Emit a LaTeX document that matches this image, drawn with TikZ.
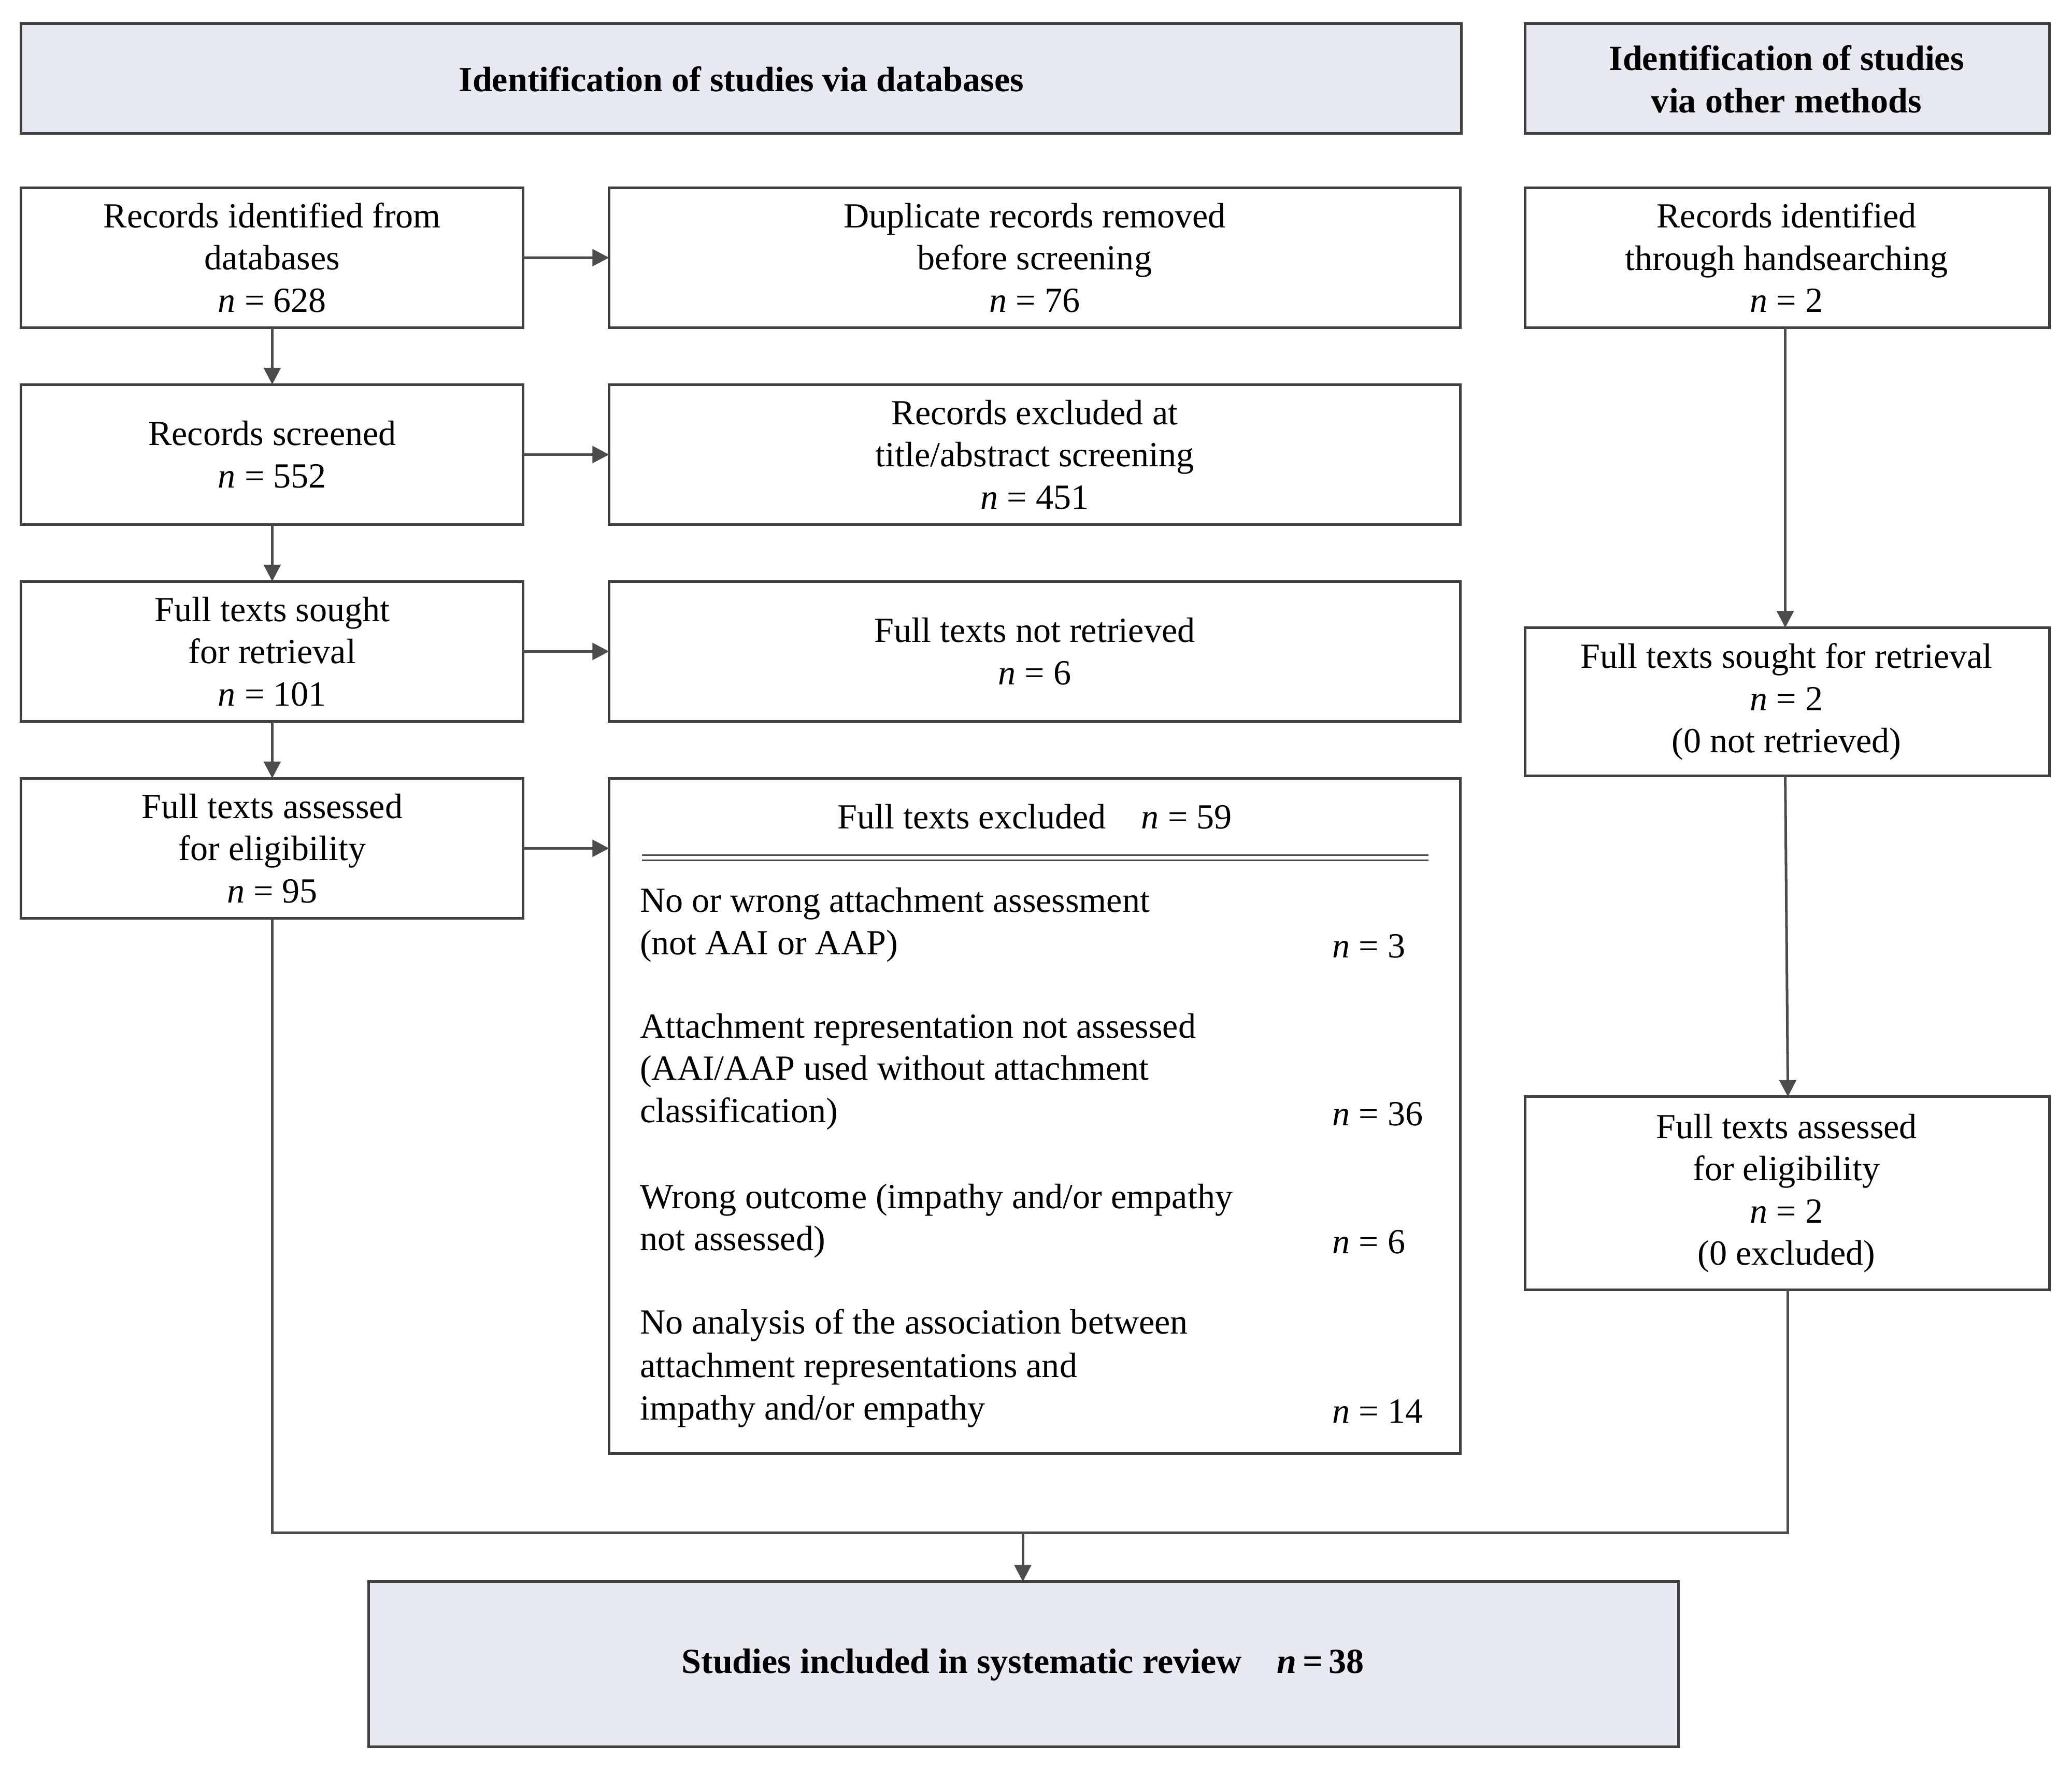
\documentclass[tikz,border=0pt]{standalone}
\usepackage{fontspec}
\setmainfont{Liberation Serif}
\usetikzlibrary{arrows.meta}
\begin{document}
\fontsize{19pt}{22.7pt}\selectfont
\begin{tikzpicture}[x=0.025cm,y=-0.025cm,
  bx/.style={draw=black!75,line width=1.4pt},
  hd/.style={bx,fill=blue!20!gray!15},
  t/.style={align=center,inner sep=0},
  l/.style={anchor=west,inner sep=0},
  ar/.style={draw=black!70,line width=1.4pt,-{Triangle[length=9pt,width=9pt]}},
  ln/.style={draw=black!70,line width=1.4pt}]
\useasboundingbox (0,0) rectangle (1568,1343);
\newcommand{\nn}{\textit{n}}
% headers
\draw[hd] (16,18) rectangle (1106,101); \node[t,font=\bfseries] (h1) at (561,60) {Identification of studies via databases};
\draw[hd] (1154,18) rectangle (1551,101); \node[t,font=\bfseries] (h2) at (1352,60) {Identification of studies\\via other methods};
% left
\draw[bx] (16,142) rectangle (396,248); \coordinate (a1) at (206,195);
\node[t] (ta1) at (206,195) {Records identified from\\databases\\\nn{} = 628};
\draw[bx] (16,291) rectangle (396,397);
\node[t] (ta2) at (206,344) {Records screened\\\nn{} = 552};
\draw[bx] (16,440) rectangle (396,546);
\node[t] (ta3) at (206,493) {Full texts sought\\for retrieval\\\nn{} = 101};
\draw[bx] (16,589) rectangle (396,695);
\node[t] (ta4) at (206,642) {Full texts assessed\\for eligibility\\\nn{} = 95};
% middle
\draw[bx] (461,142) rectangle (1105,248);
\node[t] (tb1) at (783,195) {Duplicate records removed\\before screening\\\nn{} = 76};
\draw[bx] (461,291) rectangle (1105,397);
\node[t] (tb2) at (783,344) {Records excluded at\\title/abstract screening\\\nn{} = 451};
\draw[bx] (461,440) rectangle (1105,546);
\node[t] (tb3) at (783,493) {Full texts not retrieved\\\nn{} = 6};
\draw[bx] (461,589) rectangle (1105,1100);
\node[t] (tb4) at (783,618) {Full texts excluded\quad\nn{} = 59};
\draw[black!70,line width=0.8pt] (486,647) -- (1081,647) (486,651) -- (1081,651);
\node[l] (e1) at (484,684) {No or wrong attachment assessment};
\node[l] (e2) at (484,716) {(not AAI or AAP)};
\node[l] (e3) at (484,779) {Attachment representation not assessed};
\node[l] (e4) at (484,811) {(AAI/AAP used without attachment};
\node[l] (e5) at (484,843) {classification)};
\node[l] (e6) at (484,908) {Wrong outcome (impathy and/or empathy};
\node[l] (e7) at (484,940) {not assessed)};
\node[l] (e8) at (484,1003) {No analysis of the association between};
\node[l] (e9) at (484,1036) {attachment representations and};
\node[l] (e10) at (484,1068) {impathy and/or empathy};
\node[l] (n1) at (1008,716) {\nn{} = 3};
\node[l] (n2) at (1008,843) {\nn{} = 36};
\node[l] (n3) at (1008,940) {\nn{} = 6};
\node[l] (n4) at (1008,1068) {\nn{} = 14};
% right
\draw[bx] (1154,142) rectangle (1551,248);
\node[t] (tc1) at (1352,195) {Records identified\\through handsearching\\\nn{} = 2};
\draw[bx] (1154,475) rectangle (1551,587);
\node[t] (tc2) at (1352,531) {Full texts sought for retrieval\\\nn{} = 2\\(0 not retrieved)};
\draw[bx] (1154,830) rectangle (1551,976);
\node[t] (tc3) at (1352,903) {Full texts assessed\\for eligibility\\\nn{} = 2\\(0 excluded)};
% final
\draw[hd] (279,1197) rectangle (1270,1322);
\node[t,font=\bfseries] (fin) at (774,1260) {Studies included in systematic review\quad\textit{n}\,=\,38};
% coordinates and arrows
\coordinate (L1) at (206,248); \coordinate (L2t) at (206,291); \coordinate (L2) at (206,397);
\coordinate (L3t) at (206,440); \coordinate (L3) at (206,546); \coordinate (L4t) at (206,589);
\coordinate (L4) at (206,695); \coordinate (LB) at (206,1160); \coordinate (RB) at (1353,1160);
\coordinate (R3b) at (1353,976); \coordinate (M) at (774,1160); \coordinate (Ft) at (774,1197);
\draw[ar] (L1) -- (L2t); \draw[ar] (L2) -- (L3t); \draw[ar] (L3) -- (L4t);
\foreach \y in {195,344,493,642} {\draw[ar] (396,\y) -- (461,\y);}
\coordinate (R1) at (1351,248); \coordinate (R2t) at (1351,475);
\coordinate (R2) at (1351,587); \coordinate (R3t) at (1353,830);
\draw[ar] (R1) -- (R2t); \draw[ar] (R2) -- (R3t);
\draw[ln] (L4) -- (LB) -- (RB) -- (R3b);
\draw[ar] (M) -- (Ft);
\end{tikzpicture}
\end{document}
